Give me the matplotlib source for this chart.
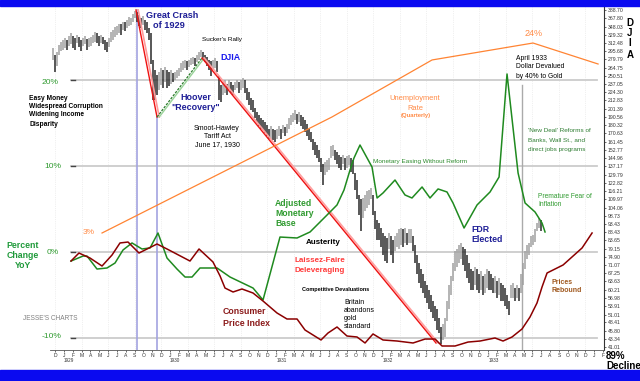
import numpy as np
import matplotlib
matplotlib.use('Agg')
import matplotlib.pyplot as plt
from matplotlib.patches import Rectangle
from matplotlib.ticker import NullLocator

plt.rcParams['font.family'] = ['Liberation Sans', 'DejaVu Sans']

# DJIA weekly high / low, Dec 1928 .. Jul 1933
djia_hi = [301, 288, 294, 307, 315, 318, 323, 318, 327, 333, 327, 323, 330, 325, 318, 323, 327, 320, 323, 325,
           330, 335, 333, 327, 330, 325, 318, 313, 323, 335, 340, 348, 350, 355, 353, 360, 360, 364, 371, 369,
           378, 386, 383, 376, 369, 373, 364, 360, 345, 334, 279, 261, 252, 257, 264, 261, 266, 261, 257, 261,
           255, 257, 261, 264, 273, 276, 279, 276, 279, 283, 285, 283, 287, 293, 298, 294, 288, 285, 279, 276,
           279, 283, 276, 251, 235, 240, 244, 237, 244, 240, 235, 240, 244, 240, 244, 247, 244, 231, 225, 216,
           213, 202, 197, 193, 189, 187, 184, 180, 176, 179, 176, 175, 176, 179, 176, 180, 178, 182, 189, 193,
           196, 199, 194, 197, 193, 190, 187, 182, 176, 172, 165, 161, 158, 153, 145, 139, 141, 143, 145, 157,
           158, 153, 151, 148, 146, 148, 145, 147, 148, 145, 143, 131, 125, 113, 110, 111, 113, 116, 117, 119,
           113, 102, 96, 94, 91, 88, 86, 85, 88, 86, 84, 86, 88, 90, 91, 90, 91, 88, 90, 90,
           86, 81, 76, 72, 69, 67, 64, 62, 60, 58, 56, 54, 53, 50, 47, 48, 50, 56, 62, 66,
           72, 78, 79, 81, 82, 80, 79, 76, 72, 69, 68, 70, 69, 67, 68, 66, 67, 69, 68, 67,
           65, 66, 64, 65, 63, 62, 61, 58, 56, 62, 63, 61, 62, 61, 67, 72, 78, 81, 82, 86,
           87, 90, 94, 97, 96]
djia_lo = [279, 257, 268, 288, 295, 298, 302, 298, 306, 309, 302, 298, 311, 304, 295, 306, 309, 298, 304, 306,
           311, 315, 311, 306, 311, 309, 298, 294, 304, 313, 318, 325, 330, 333, 330, 340, 337, 345, 349, 351,
           359, 369, 359, 349, 345, 351, 340, 333, 318, 272, 213, 213, 221, 228, 236, 231, 240, 231, 234, 237,
           240, 244, 247, 250, 257, 261, 264, 261, 266, 270, 272, 268, 274, 279, 285, 279, 274, 268, 261, 250,
           261, 264, 257, 213, 211, 221, 224, 221, 228, 224, 221, 228, 231, 224, 228, 231, 224, 213, 206, 200,
           197, 189, 184, 179, 176, 175, 171, 168, 165, 165, 163, 161, 165, 168, 165, 171, 168, 171, 176, 180,
           184, 187, 182, 184, 179, 176, 172, 168, 163, 161, 153, 148, 145, 141, 132, 121, 129, 132, 134, 145,
           147, 143, 139, 136, 134, 139, 134, 136, 138, 132, 130, 117, 110, 99, 89, 97, 102, 104, 106, 110,
           99, 90, 84, 84, 80, 76, 73, 72, 79, 76, 72, 78, 80, 79, 81, 80, 82, 81, 82, 82,
           78, 72, 67, 63, 61, 59, 57, 55, 53, 52, 50, 49, 46, 45, 42, 43, 44, 49, 53, 58,
           64, 68, 70, 72, 74, 71, 68, 65, 63, 60, 60, 62, 60, 59, 60, 58, 59, 61, 60, 60,
           59, 59, 57, 58, 56, 56, 54, 53, 51, 57, 57, 56, 57, 56, 59, 62, 69, 74, 76, 80,
           81, 83, 89, 91, 89]

djia_ticks = [388.70, 367.80, 348.03, 329.32, 312.48, 295.68, 279.79, 264.75, 250.51, 237.05, 224.30,
              212.83, 201.39, 190.56, 180.32, 170.63, 161.45, 152.77, 144.96, 137.17, 129.79, 122.82,
              116.21, 109.97, 104.06, 98.73, 93.43, 88.43, 83.65, 79.15, 74.90, 71.07, 67.25, 63.63,
              60.21, 56.98, 53.91, 51.01, 48.41, 45.80, 43.34, 41.01]

# x axis: months from Dec 1928 (0) to Feb 1934 (62)
month_labels = ['D'] + ['J', 'F', 'M', 'A', 'M', 'J', 'J', 'A', 'S', 'O', 'N', 'D'] * 5 + ['J', 'F']
years = ['1929', '1930', '1931', '1932', '1933']
year_month = [1, 13, 25, 37, 49]

# Adjusted monetary base, % change YoY
mb_month = [1.81, 3.17, 3.62, 4.75, 5.88, 6.79, 7.69, 8.71, 9.84, 10.75, 11.65, 12.67, 13.80, 14.71, 15.50,
            16.40, 18.33, 19.80, 22.40, 23.53, 25.45, 27.38, 28.85, 30.77, 31.90, 32.69, 33.37, 33.82, 34.50,
            35.86, 36.43, 37.10, 38.46, 39.59, 40.38, 41.52, 42.42, 43.33, 44.34, 45.02, 46.27, 47.74, 49.21,
            50.23, 51.13, 52.38, 53.17, 54.30, 55.09, 55.43]
mb_pct = [-1.05, -0.47, -0.47, -1.98, -1.86, -1.28, 0.23, 1.05, 0.35, 0.47, 2.21, -0.70, -1.98, -2.91, -2.91,
          -1.86, -1.86, -2.91, -4.19, -5.58, 1.74, 1.63, 2.33, 4.30, 5.47, 7.21, 9.53, 10.93, 12.44,
          9.88, 6.28, 6.86, 8.37, 6.63, 6.28, 7.56, 6.28, 7.33, 6.98, 5.70, 2.79, 5.47, 6.98,
          8.72, 20.70, 9.19, 5.70, 4.65, 3.37, 2.33]

# Consumer price index, % change YoY
cpi_month = [1.81, 2.71, 3.96, 5.32, 6.45, 7.35, 8.26, 9.50, 10.41, 11.54, 12.67, 15.27, 16.29, 17.87, 18.67,
             19.23, 20.14, 21.15, 22.40, 23.53, 25.11, 26.24, 27.38, 28.28, 30.09, 30.88, 31.90, 33.03, 34.16,
             35.07, 35.97, 37.10, 38.69, 40.50, 41.86, 42.99, 43.78, 45.25, 46.72, 48.08, 49.77, 50.68, 51.70,
             52.83, 53.73, 54.52, 55.09, 55.66, 57.47, 59.62, 60.75]
cpi_pct = [-1.05, -0.12, -0.70, -1.63, -0.35, 1.05, 1.16, -0.12, 0.35, 0.93, 0.35, -1.05, 0.35, -1.16, -2.79,
           -4.19, -4.65, -4.30, -4.77, -5.70, -7.09, -7.79, -7.79, -9.07, -10.23, -9.42, -8.72, -9.77, -9.88,
           -10.58, -9.53, -10.23, -10.35, -10.58, -10.12, -10.12, -10.93, -10.93, -10.47, -10.35, -10.00, -10.35, -9.88,
           -8.95, -7.56, -5.93, -4.07, -2.44, -1.51, 0.47, 2.21]

# Unemployment rate (quarterly)
unemp_month = [5.32, 31.33, 42.65, 54.07, 61.43]
unemp_pct = [2.21, 15.70, 22.33, 24.30, 21.86]

fig = plt.figure(figsize=(6.4, 3.81), dpi=100)
W, H = 640, 381


def fx(x):
    return x / W


def fy(y):
    return 1 - y / H


ax = fig.add_axes([fx(50), fy(350), 554 / W, 343 / H])
ax.set_yscale('log')
axp = ax.twinx()
ax.yaxis.tick_right()
axp.yaxis.set_visible(False)

# DJIA weekly range bars
hi = np.array(djia_hi)
lo = np.array(djia_lo)
wk = -0.226 + 0.2262 * np.arange(len(hi))
mid = (hi + lo) / 2
up = np.r_[True, mid[1:] >= mid[:-1]]
ax.vlines(wk[up], lo[up], hi[up], color='#a0a0a0', lw=1.1, zorder=3)
ax.vlines(wk[~up], lo[~up], hi[~up], color='#2a2a2a', lw=1.1, zorder=3)

# faint quarterly grid
for m in range(0, 63, 3):
    ax.plot([m, m], [40.3, 396], color='#e2e2e2', lw=0.5, ls=':', zorder=0)

# percent grid lines (behind bars)
for p in [20, 10, 0, -10]:
    ax.plot([1.81, 61.3], [p, p], color='#cccccc', lw=1.3, transform=axp.transData, zorder=1)
    ax.plot([1.81, 2.3], [p, p], color='#444444', lw=1.0, transform=axp.transData, zorder=1)

# event verticals
ax.plot([9.28, 9.28], [388.7, 40.3], color='#a3a3e0', lw=1.2, zorder=1)
ax.plot([11.54, 11.54], [190.4, 40.3], color='#a3a3e0', lw=1.2, zorder=1)
ax.plot([52.83, 52.83], [235.8, 40.3], color='#aaaaaa', lw=1.0, zorder=1)

# trend annotations
ax.plot([9.41, 11.79], [388.7, 190.4], color='#ff9c9c', lw=1.2, zorder=4)
ax.plot([9.16, 11.54], [388.7, 190.4], color='#ee1111', lw=1.0, zorder=4)
ax.plot([11.79, 16.88], [190.4, 282.2], color='#9ad49a', lw=1.0, zorder=4)
ax.plot([11.54, 16.63], [190.4, 282.2], color='#2d7d2d', lw=0.9, ls=(0, (2, 1)), zorder=4)
ax.plot([16.88, 43.35], [282.2, 42.2], color='#ffa0a0', lw=1.2, zorder=4)
ax.plot([16.63, 43.1], [282.2, 42.2], color='#ee1111', lw=1.0, zorder=4)

# percent series
axp.plot(unemp_month, unemp_pct, color='#ff8433', lw=0.9, zorder=3)
axp.plot(mb_month, mb_pct, color='#1f8a1f', lw=1.1, zorder=3)
axp.plot(cpi_month, cpi_pct, color='#8b0000', lw=1.1, zorder=3)

ax.set_xlim(-0.566, 62.1)
ax.set_ylim(40.28, 396.55)
axp.set_ylim(-11.395, 28.488)

ax.set_yticks(djia_ticks)
ax.set_yticklabels(['%.2f' % t for t in djia_ticks])
ax.yaxis.set_minor_locator(NullLocator())
ax.tick_params(axis='y', labelsize=3.7, length=1.5, width=0.5, pad=1.2, colors='#333333')
ax.set_xticks(range(len(month_labels)))
ax.set_xticklabels(month_labels)
ax.tick_params(axis='x', labelsize=3.6, length=1.5, width=0.5, pad=1.0, colors='#333333')

for a in (ax, axp):
    for s in ('top', 'left'):
        a.spines[s].set_visible(False)
axp.spines['right'].set_visible(False)
axp.spines['bottom'].set_visible(False)
ax.spines['right'].set_linestyle((0, (1, 1)))
ax.spines['right'].set_color('#333333')
ax.spines['right'].set_linewidth(0.8)
ax.spines['bottom'].set_color('#555555')
ax.spines['bottom'].set_linewidth(0.6)

for yr, m in zip(years, year_month):
    ax.text(m + 0.6, -0.03, yr, transform=ax.get_xaxis_transform(), ha='center', va='center',
            fontsize=3.3, color='#333333')

# annotations
navy = '#1e1e96'
green = '#2f9a2f'
orange = '#ff8a45'
notes = [
    ("Great Crash", 146, 15, 'left', navy, 6.6, 'bold'),
    ("of 1929", 153, 25, 'left', navy, 6.6, 'bold'),
    ("Sucker's Rally", 202, 39, 'left', 'black', 4.6, 'normal'),
    ("DJIA", 220, 57, 'left', '#1a1aee', 6.4, 'bold'),
    ("Hoover", 196, 97, 'center', navy, 6.4, 'bold'),
    ('"Recovery"', 196, 107, 'center', navy, 6.4, 'bold'),
    ("20%", 50, 83, 'center', green, 6.1, 'normal'),
    ("10%", 53, 167, 'center', green, 6.1, 'normal'),
    ("0%", 53, 252, 'center', green, 6.1, 'normal'),
    ("-10%", 52, 337, 'center', green, 6.1, 'normal'),
    ("Easy Money", 29, 98, 'left', 'black', 4.8, 'bold'),
    ("Widespread Corruption", 29, 107, 'left', 'black', 4.8, 'bold'),
    ("Widening Income", 29, 115, 'left', 'black', 4.8, 'bold'),
    ("Disparity", 29, 124, 'left', 'black', 4.8, 'bold'),
    ("Smoot-Hawley", 217, 128, 'center', 'black', 5.0, 'normal'),
    ("Tariff Act", 217, 137, 'center', 'black', 5.0, 'normal'),
    ("June 17, 1930", 217, 145, 'center', 'black', 5.0, 'normal'),
    ("Unemployment", 415, 99, 'center', orange, 5.4, 'normal'),
    ("Rate", 415, 108, 'center', orange, 5.4, 'normal'),
    ("(Quarterly)", 416, 116, 'center', orange, 4.2, 'bold'),
    ("24%", 534, 34, 'center', orange, 6.5, 'normal'),
    ("April 1933", 516, 59, 'left', 'black', 4.9, 'normal'),
    ("Dollar Devalued", 516, 67, 'left', 'black', 4.9, 'normal'),
    ("by 40% to Gold", 516, 76, 'left', 'black', 4.9, 'normal'),
    ("'New Deal' Reforms of", 528, 131, 'left', '#2e7d32', 4.6, 'normal'),
    ("Banks, Wall St., and", 528, 140, 'left', '#2e7d32', 4.6, 'normal'),
    ("direct jobs programs", 528, 149, 'left', '#2e7d32', 4.6, 'normal'),
    ("Monetary Easing Without Reform", 373, 162, 'left', '#2e8b2e', 4.6, 'normal'),
    ("Premature Fear of", 538, 197, 'left', green, 4.8, 'normal'),
    ("Inflation", 538, 205, 'left', green, 4.8, 'normal'),
    ("3%", 89, 232, 'center', orange, 6.0, 'normal'),
    ("Percent", 23, 245, 'center', '#1f9a3a', 6.3, 'bold'),
    ("Change", 23, 256, 'center', '#1f9a3a', 6.3, 'bold'),
    ("YoY", 23, 266, 'center', '#1f9a3a', 6.3, 'bold'),
    ("JESSE'S CHARTS", 23, 318, 'left', '#808080', 4.7, 'normal'),
    ("Adjusted", 275, 203, 'left', green, 6.2, 'bold'),
    ("Monetary", 275, 213, 'left', green, 6.2, 'bold'),
    ("Base", 275, 224, 'left', green, 6.2, 'bold'),
    ("Austerity", 306, 242, 'left', 'black', 5.8, 'bold'),
    ("Laissez-Faire", 320, 261, 'center', '#ff3b3b', 5.8, 'bold'),
    ("Deleveraging", 320, 271, 'center', '#ff3b3b', 5.8, 'bold'),
    ("Competitive Devaluations", 302, 289, 'left', 'black', 4.0, 'bold'),
    ("Britain", 344, 302, 'left', 'black', 5.0, 'normal'),
    ("abandons", 344, 311, 'left', 'black', 5.0, 'normal'),
    ("gold", 344, 319, 'left', 'black', 5.0, 'normal'),
    ("standard", 344, 327, 'left', 'black', 5.0, 'normal'),
    ("Consumer", 223, 312, 'left', '#8b1a1a', 6.3, 'bold'),
    ("Price Index", 223, 323, 'left', '#8b1a1a', 6.3, 'bold'),
    ("FDR", 471, 229, 'left', navy, 6.3, 'bold'),
    ("Elected", 471, 240, 'left', navy, 6.3, 'bold'),
    ("Prices", 552, 282, 'left', '#a0581e', 5.0, 'bold'),
    ("Rebound", 552, 290, 'left', '#a0581e', 5.0, 'bold'),
    ("D", 630, 23, 'center', 'black', 7.0, 'bold'),
    ("J", 630, 33, 'center', 'black', 7.0, 'bold'),
    ("I", 630, 43, 'center', 'black', 7.0, 'bold'),
    ("A", 630, 55, 'center', 'black', 7.0, 'bold'),
    ("89%", 606, 356, 'left', 'black', 7.0, 'bold'),
    ("Decline", 606, 366, 'left', 'black', 7.0, 'bold'),
]
for s, x, y, ha, c, fs, fw in notes:
    fig.text(fx(x), fy(y), s, ha=ha, va='center', color=c, fontsize=fs, fontweight=fw)

# blue frame bands
fig.patches.append(Rectangle((0, fy(6)), 1, 6 / H, transform=fig.transFigure, color='#0a0af0', zorder=10))
fig.patches.append(Rectangle((0, 0), 1, 11 / H, transform=fig.transFigure, color='#0a0af0', zorder=10))

fig.savefig('out.png', dpi=100)
